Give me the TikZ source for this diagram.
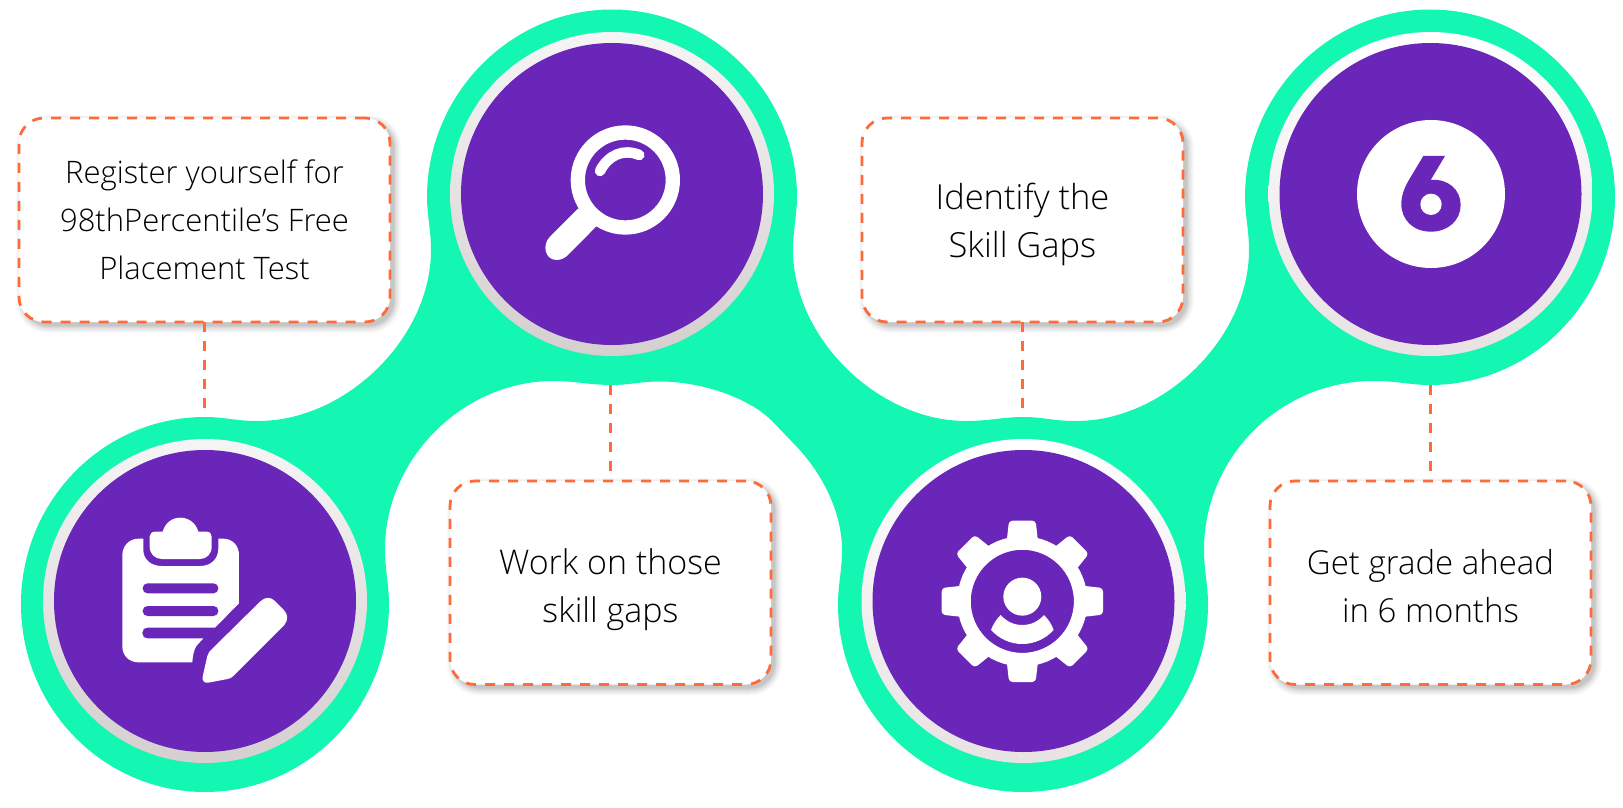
\documentclass[tikz,border=0pt]{standalone}
\usepackage{fontspec}
\setmainfont{Open Sans Light}
\definecolor{blobgreen}{HTML}{14F7B3}
\definecolor{discpurple}{HTML}{6A26B8}
\definecolor{dashorange}{HTML}{FF6A39}
\definecolor{ringtopa}{HTML}{F6F5F6}
\definecolor{ringbota}{HTML}{D5CFCF}
\definecolor{ringbotb}{HTML}{E8E2E3}
\newcommand{\softshadow}[4]{%
  \foreach \e/\o in {7/.018,6/.02,5/.022,4/.025,3/.03,2/.035,1/.04,0/.05}{%
    \fill[black,fill opacity=\o,rounded corners={25pt+\e pt}]
      ({#1+4-\e},{#2+4-\e}) rectangle ({#3+4+\e},{#4+4+\e});}}
\newcommand{\lowered}[2]{\raisebox{-#1pt}[\height][\depth]{#2}}
\tikzset{
  infobox/.style={rectangle,draw=dashorange,fill=white,line width=2.8pt,
    dash pattern=on 10pt off 9pt,rounded corners=25pt,inner sep=0pt,outer sep=0pt,
    align=center,text=black},
  link/.style={draw=dashorange,line width=3pt,dash pattern=on 10pt off 9pt},
  ringa/.style={circle,minimum size=324pt,inner sep=0pt,outer sep=0pt,shade,shading angle=20,top color=#1},
  disc/.style={circle,minimum size=302pt,inner sep=0pt,outer sep=0pt,fill=discpurple},
  icon/.style={x=0.33333pt,y=-0.33333pt}
}
\begin{document}
\begin{tikzpicture}[x=1pt,y=-1pt]
\useasboundingbox (0,0) rectangle (1623,808);
% green blob
\fill[blobgreen]
 (205,417) .. controls (225,417) and (235,421) .. (258,421)
 .. controls (346,421) and (431,338) .. (431,250)
 .. controls (431,230) and (427,215) .. (427,197)
 .. controls (427,95) and (510,9.5) .. (612,9.5)
 .. controls (714,9.5) and (797,95) .. (797,197)
 .. controls (797,215) and (793,230) .. (793,250)
 .. controls (793,338) and (878,421) .. (966,421)
 .. controls (989,421) and (1003,417) .. (1023,417)
 .. controls (1043,417) and (1053,421) .. (1076,421)
 .. controls (1164,421) and (1249,338) .. (1249,250)
 .. controls (1249,230) and (1245,215) .. (1245,197)
 .. controls (1245,95) and (1328,9.5) .. (1430,9.5)
 .. controls (1532,9.5) and (1615,95) .. (1615,197)
 .. controls (1615,301) and (1532,385) .. (1430,385)
 .. controls (1410,385) and (1398,381) .. (1373,381)
 .. controls (1280,381) and (1204,457) .. (1204,550)
 .. controls (1204,570) and (1208,585) .. (1208,604)
 .. controls (1208,708) and (1125,792) .. (1023,792)
 .. controls (921,792) and (838,708) .. (838,604)
 .. controls (838,585) and (842,570) .. (842,550)
 .. controls (842,515) and (825,477) .. (797,447)
 -- (773,422)
 .. controls (749,397) and (700,381.5) .. (660,381.5)
 .. controls (640,381.5) and (630,385) .. (612,385)
 .. controls (590,385) and (575,381) .. (553,381)
 .. controls (463,381) and (385,459) .. (385,549)
 .. controls (385,570) and (389,585) .. (389,604)
 .. controls (389,708) and (307,792) .. (205,792)
 .. controls (103,792) and (21,708) .. (21,604)
 .. controls (21,501) and (103,417) .. (205,417) -- cycle;
% discs
\node[ringa=ringtopa,bottom color=ringbota] (r1) at (205,601) {};
\node[disc] (c1) at (205,601) {};
\node[ringa=ringtopa,bottom color=ringbota] (r2) at (612,194) {};
\node[disc] (c2) at (612,194) {};
\node[ringa=white,bottom color=ringbotb] (r3) at (1023.5,601) {};
\node[disc] (c3) at (1023.5,601) {};
\node[ringa=white,bottom color=ringbotb] (r4) at (1430.5,194) {};
\node[disc] (c4) at (1430.5,194) {};
% clipboard icon
\begin{scope}[shift={(0,400)},icon]
\fill[white] (430,416) -- (430,450) .. controls (430,480) and (455,498) .. (485,498)
  -- (600,498) .. controls (632,498) and (655,478) .. (655,445) -- (655,416) -- (670,416)
  .. controls (698,416) and (717,438) .. (717,465) -- (717,610) -- (645,683) -- (443,683)
  .. controls (421,683) and (421,715) .. (443,715) -- (610,715) -- (590,737)
  .. controls (582,748) and (578,768) .. (577,787) -- (415,787)
  .. controls (388,787) and (367,767) .. (367,740) -- (367,465)
  .. controls (367,438) and (388,416) .. (415,416) -- cycle;
\fill[white] (488,395) .. controls (495,370) and (515,353) .. (541,353)
  .. controls (567,353) and (588,370) .. (595,395) -- (620,395)
  .. controls (630,395) and (635,402) .. (635,410) -- (635,440)
  .. controls (635,462) and (620,477) .. (600,477) -- (485,477)
  .. controls (465,477) and (449,462) .. (449,440) -- (449,410)
  .. controls (449,402) and (455,395) .. (465,395) -- cycle;
\fill[discpurple,rounded corners=4.8pt] (428,550) rectangle (655,580);
\fill[discpurple,rounded corners=4.8pt] (428,618) rectangle (655,648);
\fill[white] (622,768) -- (628,755) -- (780,605) .. controls (795,590) and (812,590) .. (825,603)
  -- (850,628) .. controls (865,643) and (865,660) .. (853,675) -- (700,828)
  .. controls (695,833) and (690,836) .. (683,837) -- (625,848)
  .. controls (612,850) and (606,842) .. (608,830) -- cycle;
\end{scope}
% magnifier icon
\begin{scope}[shift={(420,0)},icon]
\draw[white,line width=14.3pt] (616,540) circle [radius=142.5];
\fill[white] (475,625) -- (390,710) .. controls (365,735) and (375,780) .. (410,780)
  .. controls (425,780) and (437,772) .. (445,764) -- (530,678) -- cycle;
\draw[white,line width=10.5pt,line cap=round] (540,513) .. controls (565,465) and (610,445) .. (658,465);
\end{scope}
% gear icon
\begin{scope}[shift={(840,420)},icon]
\draw[white,line width=13.5pt] (547,544) circle [radius=175];
\foreach \a in {0,45,...,315}{
  \fill[white,rounded corners=3.5pt,rotate around={\a:(547,544)}]
    (500,365) -- (507,302) -- (587,302) -- (594,365) -- cycle;
}
\fill[white] (547,530) circle [radius=57];
\fill[white] (482,585) .. controls (500,605) and (522,615) .. (547,615)
  .. controls (572,615) and (594,605) .. (612,585)
  .. controls (625,598) and (635,613) .. (641,630)
  .. controls (618,655) and (585,672) .. (547,672)
  .. controls (509,672) and (476,655) .. (453,630)
  .. controls (459,613) and (469,598) .. (482,585) -- cycle;
\end{scope}
% six icon
\begin{scope}[shift={(1230,0)},icon]
\fill[white] (603,582) circle [radius=222];
\fill[discpurple] (580,468) -- (645,468) -- (602,540)
  .. controls (655,535) and (692,570) .. (692,615)
  .. controls (692,660) and (655,695) .. (603,695)
  .. controls (550,695) and (514,660) .. (514,612)
  .. controls (514,585) and (525,560) .. (535,543) -- cycle;
\fill[white] (603,613) circle [radius=32];
\end{scope}
% shadows and boxes
\softshadow{19}{118}{390}{322}
\softshadow{450}{481}{771}{684.5}
\softshadow{862}{118}{1183}{322}
\softshadow{1270}{481}{1591}{684.5}
\node[infobox,minimum width=371pt,minimum height=204pt,font=\fontsize{31}{48}\selectfont] (b1) at (204.5,220) {Register yourself for\\98thPercentile’s Free\\Placement Test};
\node[infobox,minimum width=321pt,minimum height=203.5pt,font=\fontsize{34}{48}\selectfont] (b2) at (610.5,582.75) {\lowered{7}{Work on those}\\\lowered{7}{skill gaps}};
\node[infobox,minimum width=321pt,minimum height=204pt,font=\fontsize{34.5}{48}\selectfont] (b3) at (1022.5,220) {\lowered{4}{Identify the}\\\lowered{4}{Skill Gaps}};
\node[infobox,minimum width=321pt,minimum height=203.5pt,font=\fontsize{33}{48}\selectfont] (b4) at (1430.5,582.75) {\lowered{3}{Get grade ahead}\\\lowered{3}{in 6 months}};
% connectors
\coordinate (e1) at (204.5,417);
\coordinate (e2) at (610.5,385);
\coordinate (e3) at (1022.5,417);
\coordinate (e4) at (1430.5,385);
\draw[link] (b1.south) -- (e1);
\draw[link] (e2) -- (b2.north);
\draw[link] (b3.south) -- (e3);
\draw[link] (e4) -- (b4.north);
\end{tikzpicture}
\end{document}
